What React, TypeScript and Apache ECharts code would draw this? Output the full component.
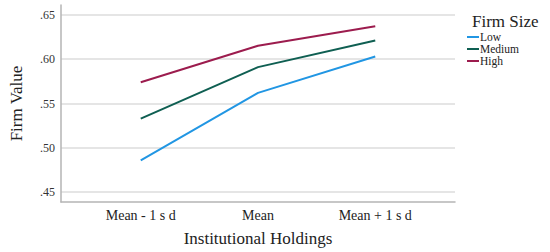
import React, { useEffect, useRef } from "react";
import * as echarts from "echarts";

const categories = ["Mean - 1 s d", "Mean", "Mean + 1 s d"];
const seriesNames = ["Low", "Medium", "High"];
const lowValues = [0.486, 0.562, 0.603];
const mediumValues = [0.533, 0.591, 0.621];
const highValues = [0.574, 0.615, 0.637];
const yTicks = [0.45, 0.5, 0.55, 0.6, 0.65];
const colors = ["#2196e3", "#0f5f52", "#9c1c4e"];

const FONT = "Liberation Serif";

export default function App() {
  const ref = useRef<HTMLDivElement>(null);
  useEffect(() => {
    if (!ref.current) return;
    const chart = echarts.init(ref.current, null, { renderer: "svg" });
    const values = [lowValues, mediumValues, highValues];
    chart.setOption({
      animation: false,
      textStyle: { fontFamily: FONT },
      grid: { left: 55, right: 95, top: 5, bottom: 44 },
      title: {
        text: "Firm Size",
        left: 467,
        top: 8,
        textStyle: { fontFamily: FONT, fontSize: 17, fontWeight: "normal", color: "#222" },
      },
      legend: {
        orient: "vertical",
        left: 462,
        top: 26,
        itemWidth: 12,
        itemHeight: 2,
        itemGap: 0,
        icon: "rect",
        data: seriesNames,
        textStyle: { fontFamily: FONT, fontSize: 11.5, lineHeight: 11, color: "#222", padding: [0, 0, 0, -4] },
      },
      xAxis: {
        type: "value",
        min: -0.68,
        max: 2.68,
        name: "Institutional Holdings",
        nameLocation: "middle",
        nameGap: 28,
        nameTextStyle: { fontFamily: FONT, fontSize: 17, color: "#222" },
        axisLine: { show: true, onZero: false, lineStyle: { color: "#b5b5b5", width: 1.5 } },
        axisTick: { show: false, customValues: [0, 1, 2] },
        splitLine: { show: false },
        axisLabel: {
          customValues: [0, 1, 2],
          formatter: (v: number) => categories[Math.round(v)] ?? "",
          fontFamily: FONT,
          fontSize: 14,
          color: "#222",
          margin: 6,
        },
      },
      yAxis: {
        type: "value",
        min: 0.439,
        max: 0.661,
        name: "Firm Value",
        nameLocation: "middle",
        nameGap: 36,
        nameRotate: 90,
        nameTextStyle: { fontFamily: FONT, fontSize: 17, color: "#222" },
        axisLine: { show: true, onZero: false, lineStyle: { color: "#b5b5b5", width: 1.5 } },
        axisTick: { show: false, customValues: yTicks },
        splitLine: { show: true, lineStyle: { color: "#dcdcdc", width: 1.5 } },
        axisLabel: {
          customValues: yTicks,
          formatter: (v: number) => v.toFixed(2).replace(/^0/, ""),
          fontFamily: FONT,
          fontSize: 12,
          color: "#333",
          margin: 6,
        },
      },
      series: seriesNames.map((name, i) => ({
        name,
        type: "line",
        symbol: "none",
        data: values[i].map((v, j) => [j, v]),
        lineStyle: { color: colors[i], width: 2 },
        itemStyle: { color: colors[i] },
      })),
    });
    return () => chart.dispose();
  }, []);
  return <div ref={ref} style={{ width: 550, height: 252, position: "absolute", left: 0, top: 0 }} />;
}
